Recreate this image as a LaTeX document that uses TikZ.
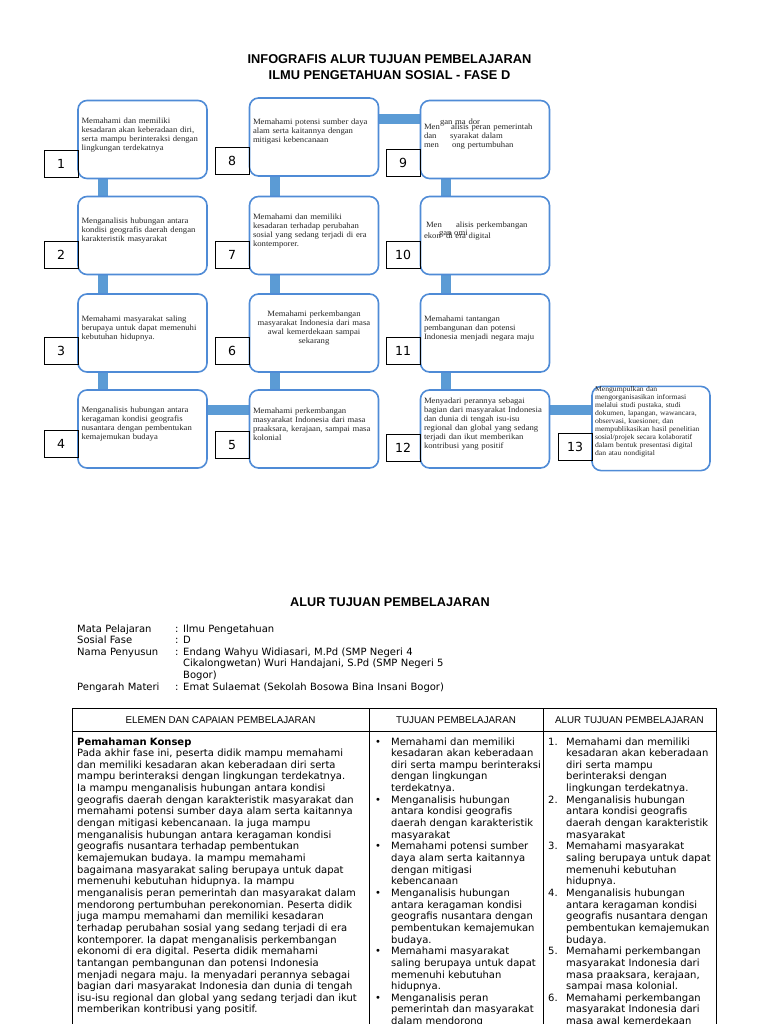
\documentclass[tikz,border=0pt]{standalone}
\usepackage{fontspec}
\setmainfont{Liberation Serif}
\newfontfamily\boxfont{Liberation Serif}[FakeStretch=1.07]
\newfontfamily\dejavu{DejaVu Sans}
\newfontfamily\arial{Liberation Sans}
\usepackage{tikz}
\usetikzlibrary{calc,backgrounds}
\definecolor{boxblue}{HTML}{4F8BD6}
\definecolor{barblue}{HTML}{5B9BD5}
\frenchspacing
\newcommand\bitem{\makebox[16pt][l]{\textbullet}}
\newcommand\bcont{\hspace*{16pt}}
\newcommand\nitem[1]{\makebox[18pt][l]{#1.}}
\newcommand\ncont{\hspace*{18pt}}
\newcommand\nohyph{\hyphenpenalty=10000\relax\exhyphenpenalty=10000\relax}
\tikzset{
  box/.style={draw=boxblue,line width=1.6pt,rounded corners=9pt,fill=white,
    minimum width=129pt,minimum height=78pt,inner xsep=3.5pt,inner ysep=0pt,
    text width=122pt,align=left,text=black!85,
    font=\boxfont\fontsize{8.1}{9}\selectfont,
    execute at begin node=\nohyph,
    execute at end node={\par\vspace*{9pt}}},
  num/.style={draw,line width=0.9pt,minimum width=34pt,minimum height=27pt,
    inner sep=0pt,font=\dejavu\fontsize{12.5}{13}\selectfont},
  link/.style={barblue,line width=10pt},
  title/.style={align=center,inner sep=0pt,font=\arial\bfseries\fontsize{12.8}{16}\selectfont},
  head/.style={inner sep=0pt,font=\arial\fontsize{9.8}{12}\selectfont},
  cell/.style={anchor=base west,inner sep=0pt,align=left,
    font=\dejavu\fontsize{10}{11.65}\selectfont}
}
\begin{document}
\begin{tikzpicture}[x=1pt,y=-1pt]
\useasboundingbox (0,0) rectangle (768,1024);
\clip (0,0) rectangle (768,1024);

% judul infografis
\node[title] (judul) at (389.5,67) {INFOGRAFIS ALUR TUJUAN PEMBELAJARAN\\ILMU PENGETAHUAN SOSIAL - FASE D};

% kotak tujuan
\node[box] (b1) at (142.5,139.5) {Memahami dan memiliki\\kesadaran akan keberadaan diri,\\serta mampu berinteraksi dengan\\lingkungan terdekatnya};
\node[box] (b2) at (142.5,235.5) {Menganalisis hubungan antara\\kondisi geografis daerah dengan\\karakteristik masyarakat};
\node[box] (b3) at (142.5,333) {Memahami masyarakat saling\\berupaya untuk dapat memenuhi\\kebutuhan hidupnya.};
\node[box] (b4) at (142.5,429) {Menganalisis hubungan antara\\keragaman kondisi geografis\\nusantara dengan pembentukan\\kemajemukan budaya};
\node[box] (b5) at (314,429) {Memahami perkembangan\\masyarakat Indonesia dari masa\\praaksara, kerajaan, sampai masa\\kolonial};
\node[box,align=center] (b6) at (314,333) {Memahami perkembangan\\masyarakat Indonesia dari masa\\awal kemerdekaan sampai\\sekarang};
\node[box] (b7) at (314,235.5) {Memahami dan memiliki\\kesadaran terhadap perubahan\\sosial yang sedang terjadi di era\\kontemporer.};
\node[box,execute at end node={\par\vspace*{2pt}}] (b8) at (314,137) {Memahami potensi sumber daya\\alam serta kaitannya dengan\\mitigasi kebencanaan};
\node[box,execute at end node={\par\vspace*{2pt}}] (b9) at (485,139.5) {\makebox[16pt][l]{Men}\rlap{\raisebox{5pt}{gan ma dor}}\hspace{11pt}alisis peran pemerintah\\\makebox[26pt][l]{dan}syarakat dalam\\\makebox[28pt][l]{men}ong pertumbuhan};
\node[box] (b10) at (485,235.5) {\hspace*{2pt}\makebox[30pt][l]{Men}alisis perkembangan\\\makebox[15pt][l]{ekon}\rlap{\raisebox{2.5pt}{gan omi}}\hspace{7pt}di era digital};
\node[box] (b11) at (485,333) {Memahami tantangan\\pembangunan dan potensi\\Indonesia menjadi negara maju};
\node[box] (b12) at (485,429) {Menyadari perannya sebagai\\bagian dari masyarakat Indonesia\\dan dunia di tengah isu-isu\\regional dan global yang sedang\\terjadi dan ikut memberikan\\kontribusi yang positif};
\node[box,minimum width=118pt,text width=112pt,inner xsep=3pt,
  font=\boxfont\fontsize{7.2}{7.95}\selectfont,
  execute at end node={\par\vspace*{5pt}}] (b13) at (651,428.5) {Mengumpulkan dan\\mengorganisasikan informasi\\melalui studi pustaka, studi\\dokumen, lapangan, wawancara,\\observasi, kuesioner, dan\\mempublikasikan hasil penelitian\\sosial/projek secara kolaboratif\\dalam bentuk presentasi digital\\dan atau nondigital};

% nomor urut
\node[num] (n1) at (61,163.5) {1};
\node[num] (n2) at (61,255) {2};
\node[num] (n3) at (61,350.5) {3};
\node[num] (n4) at (61,443.5) {4};
\node[num] (n5) at (232,445) {5};
\node[num] (n6) at (232,350.5) {6};
\node[num] (n7) at (232,255) {7};
\node[num] (n8) at (232,160.5) {8};
\node[num] (n9) at (403,163) {9};
\node[num] (n10) at (403,255) {10};
\node[num] (n11) at (403,350.5) {11};
\node[num] (n12) at (403,447.5) {12};
\node[num] (n13) at (575,447) {13};

% penghubung
\begin{scope}[on background layer]
\foreach \a/\b in {b1/b2,b2/b3,b3/b4,b8/b7,b7/b6,b6/b5,b9/b10,b10/b11,b11/b12}
  \draw[link] ($(\a.south west)!.2!(\a.south east)$) -- ($(\b.north west)!.2!(\b.north east)$);
\foreach \a/\b/\f in {b4/b5/.26,b8/b9/.27,b12/b13/.26}{
  \coordinate (h) at ($(\a.north east)!\f!(\a.south east)$);
  \draw[link] (h) -- (h -| \b.west);
}
\end{scope}

% identitas
\node[title,font=\arial\bfseries\fontsize{12.7}{15}\selectfont] (alur) at (390,602) {ALUR TUJUAN PEMBELAJARAN};
\node[cell,text width=450pt] (info) at (77,632) {%
\makebox[98pt][l]{Mata Pelajaran}\makebox[8pt][l]{:}Ilmu Pengetahuan\\
\makebox[98pt][l]{Sosial Fase}\makebox[8pt][l]{:}D\\
\makebox[98pt][l]{Nama Penyusun}\makebox[8pt][l]{:}Endang Wahyu Widiasari, M.Pd (SMP Negeri 4\\
\hspace*{106pt}Cikalongwetan) Wuri Handajani, S.Pd (SMP Negeri 5\\
\hspace*{106pt}Bogor)\\
\makebox[98pt][l]{Pengarah Materi}\makebox[8pt][l]{:}Emat Sulaemat (Sekolah Bosowa Bina Insani Bogor)};

% tabel
\draw[line width=0.8pt] (72.5,1030) -- (72.5,708) -- (716,708) -- (716,1030);
\draw[line width=0.8pt] (72.5,731) -- (716,731);
\draw[line width=0.8pt] (369,708) -- (369,1030);
\draw[line width=0.8pt] (543,708) -- (543,1030);
\node[head] (h1) at (220.5,720) {ELEMEN DAN CAPAIAN PEMBELAJARAN};
\node[head] (h2) at (456,720) {TUJUAN PEMBELAJARAN};
\node[head] (h3) at (629.5,720) {ALUR TUJUAN PEMBELAJARAN};

\node[cell,text width=290pt] (c1) at (77,745) {\textbf{Pemahaman Konsep}\\
Pada akhir fase ini, peserta didik mampu memahami\\
dan memiliki kesadaran akan keberadaan diri serta\\
mampu berinteraksi dengan lingkungan terdekatnya.\\
Ia mampu menganalisis hubungan antara kondisi\\
geografis daerah dengan karakteristik masyarakat dan\\
memahami potensi sumber daya alam serta kaitannya\\
dengan mitigasi kebencanaan. Ia juga mampu\\
menganalisis hubungan antara keragaman kondisi\\
geografis nusantara terhadap pembentukan\\
kemajemukan budaya. Ia mampu memahami\\
bagaimana masyarakat saling berupaya untuk dapat\\
memenuhi kebutuhan hidupnya. Ia mampu\\
menganalisis peran pemerintah dan masyarakat dalam\\
mendorong pertumbuhan perekonomian. Peserta didik\\
juga mampu memahami dan memiliki kesadaran\\
terhadap perubahan sosial yang sedang terjadi di era\\
kontemporer. Ia dapat menganalisis perkembangan\\
ekonomi di era digital. Peserta didik memahami\\
tantangan pembangunan dan potensi Indonesia\\
menjadi negara maju. Ia menyadari perannya sebagai\\
bagian dari masyarakat Indonesia dan dunia di tengah\\
isu-isu regional dan global yang sedang terjadi dan ikut\\
memberikan kontribusi yang positif.};

\node[cell,text width=168pt] (c2) at (375,745) {\bitem Memahami dan memiliki\\
\bcont kesadaran akan keberadaan\\
\bcont diri serta mampu berinteraksi\\
\bcont dengan lingkungan\\
\bcont terdekatnya.\\
\bitem Menganalisis hubungan\\
\bcont antara kondisi geografis\\
\bcont daerah dengan karakteristik\\
\bcont masyarakat\\
\bitem Memahami potensi sumber\\
\bcont daya alam serta kaitannya\\
\bcont dengan mitigasi\\
\bcont kebencanaan\\
\bitem Menganalisis hubungan\\
\bcont antara keragaman kondisi\\
\bcont geografis nusantara dengan\\
\bcont pembentukan kemajemukan\\
\bcont budaya.\\
\bitem Memahami masyarakat\\
\bcont saling berupaya untuk dapat\\
\bcont memenuhi kebutuhan\\
\bcont hidupnya.\\
\bitem Menganalisis peran\\
\bcont pemerintah dan masyarakat\\
\bcont dalam mendorong};

\node[cell,text width=168pt] (c3) at (548,745) {\nitem{1}Memahami dan memiliki\\
\ncont kesadaran akan keberadaan\\
\ncont diri serta mampu\\
\ncont berinteraksi dengan\\
\ncont lingkungan terdekatnya.\\
\nitem{2}Menganalisis hubungan\\
\ncont antara kondisi geografis\\
\ncont daerah dengan karakteristik\\
\ncont masyarakat\\
\nitem{3}Memahami masyarakat\\
\ncont saling berupaya untuk dapat\\
\ncont memenuhi kebutuhan\\
\ncont hidupnya.\\
\nitem{4}Menganalisis hubungan\\
\ncont antara keragaman kondisi\\
\ncont geografis nusantara dengan\\
\ncont pembentukan kemajemukan\\
\ncont budaya.\\
\nitem{5}Memahami perkembangan\\
\ncont masyarakat Indonesia dari\\
\ncont masa praaksara, kerajaan,\\
\ncont sampai masa kolonial.\\
\nitem{6}Memahami perkembangan\\
\ncont masyarakat Indonesia dari\\
\ncont masa awal kemerdekaan};
\end{tikzpicture}
\end{document}
